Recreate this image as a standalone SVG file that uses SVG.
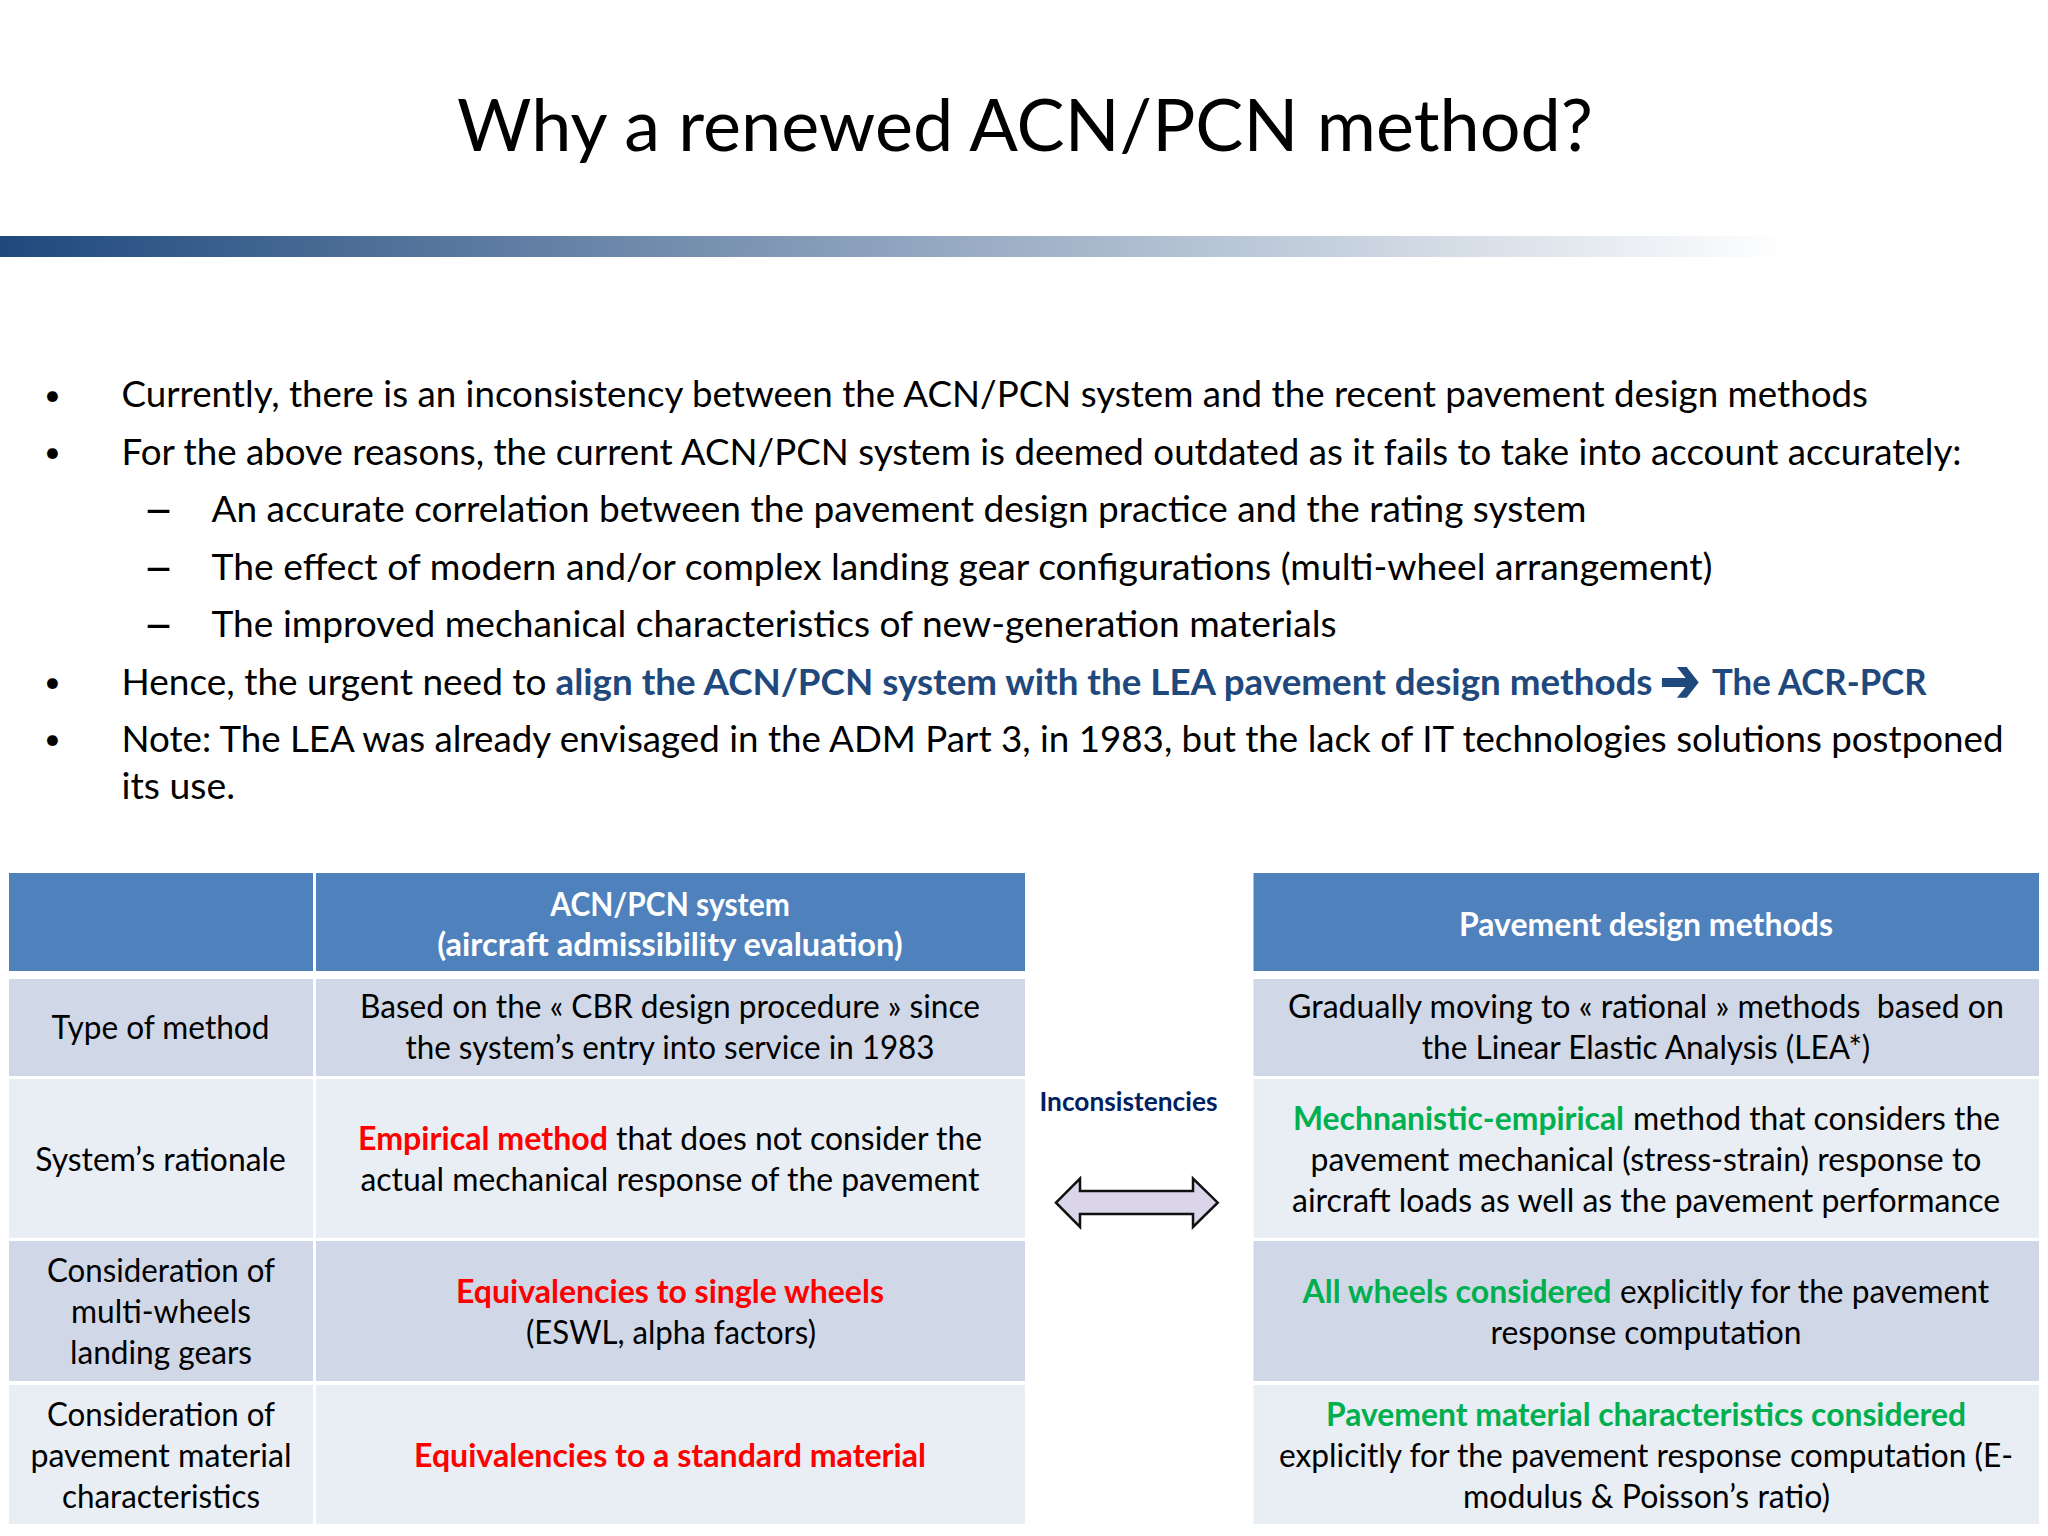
<svg xmlns="http://www.w3.org/2000/svg" width="2048" height="1536" viewBox="0 0 2048 1536">
<style>
text{font-family:"Lato","Carlito","Liberation Sans",sans-serif;fill:#000;white-space:pre}
.t{font-size:72px}
.b{font-size:37px}
.p{font-size:29px}
.c{font-size:32px;text-anchor:middle}
.s{font-size:32px}
.h{font-size:32px;font-weight:700;fill:#fff;text-anchor:middle}
.bl{fill:#1F497D;font-weight:700}
.r{fill:#FF0000;font-weight:700}
.g{fill:#00B050;font-weight:700}
.hd{fill:#4F81BD}.d{fill:#D0D8E8}.l{fill:#E9EDF4}
</style>
<defs>
<linearGradient id="bar" x1="0" x2="1" y1="0" y2="0"><stop offset="0" stop-color="#1F497D"/><stop offset="1" stop-color="#1F497D" stop-opacity="0"/></linearGradient>
</defs>
<rect width="2048" height="1536" fill="#fff"/>
<g id="title">
<text class="t" x="457" y="151" textLength="1136" lengthAdjust="spacingAndGlyphs">Why a renewed ACN/PCN method?</text>
<rect x="0" y="236" width="1790" height="21" fill="url(#bar)"/>
</g>
<g id="body">
<text class="p" x="44" y="405">•</text>
<text class="b" x="121.5" y="407" textLength="1746.5" lengthAdjust="spacingAndGlyphs">Currently, there is an inconsistency between the ACN/PCN system and the recent pavement design methods</text>
<text class="p" x="44" y="462">•</text>
<text class="b" x="121.5" y="465" textLength="1840" lengthAdjust="spacingAndGlyphs">For the above reasons, the current ACN/PCN system is deemed outdated as it fails to take into account accurately:</text>
<text class="b" x="143" y="522" textLength="31" lengthAdjust="spacingAndGlyphs" font-weight="700">–</text>
<text class="b" x="211.5" y="522" textLength="1375" lengthAdjust="spacingAndGlyphs">An accurate correlation between the pavement design practice and the rating system</text>
<text class="b" x="143" y="580" textLength="31" lengthAdjust="spacingAndGlyphs" font-weight="700">–</text>
<text class="b" x="211.5" y="580" textLength="1501" lengthAdjust="spacingAndGlyphs">The effect of modern and/or complex landing gear configurations (multi-wheel arrangement)</text>
<text class="b" x="143" y="637" textLength="31" lengthAdjust="spacingAndGlyphs" font-weight="700">–</text>
<text class="b" x="211.5" y="637" textLength="1125" lengthAdjust="spacingAndGlyphs">The improved mechanical characteristics of new-generation materials</text>
<text class="p" x="44" y="692">•</text>
<text class="b" y="695"><tspan x="121.5" textLength="425" lengthAdjust="spacingAndGlyphs">Hence, the urgent need to</tspan><tspan class="bl" x="555.5" textLength="1097" lengthAdjust="spacingAndGlyphs">align the ACN/PCN system with the LEA pavement design methods</tspan><tspan class="bl" x="1712" textLength="214.5" lengthAdjust="spacingAndGlyphs">The ACR-PCR</tspan></text>
<text x="1660" y="701" textLength="40" lengthAdjust="spacingAndGlyphs" style="font-family:'DejaVu Sans';font-size:60px;fill:#1F497D;stroke:#1F497D;stroke-width:2px">➔</text>
<text class="p" x="44" y="749">•</text>
<text class="b" x="121.5" y="752" textLength="1882" lengthAdjust="spacingAndGlyphs">Note: The LEA was already envisaged in the ADM Part 3, in 1983, but the lack of IT technologies solutions postponed</text>
<text class="b" x="121.5" y="799" textLength="113.5" lengthAdjust="spacingAndGlyphs">its use.</text>
</g>
<g id="table-left">
<rect class="hd" x="9" y="873" width="304" height="98"/>
<rect class="hd" x="316" y="873" width="709" height="98"/>
<rect class="d" x="9" y="979" width="304" height="97"/>
<rect class="d" x="316" y="979" width="709" height="97"/>
<rect class="l" x="9" y="1079" width="304" height="159"/>
<rect class="l" x="316" y="1079" width="709" height="159"/>
<rect class="d" x="9" y="1241" width="304" height="140"/>
<rect class="d" x="316" y="1241" width="709" height="140"/>
<rect class="l" x="9" y="1385" width="304" height="139"/>
<rect class="l" x="316" y="1385" width="709" height="139"/>
<text class="h" x="670" y="915.5" textLength="239.5" lengthAdjust="spacingAndGlyphs">ACN/PCN system</text>
<text class="h" x="670" y="956" textLength="465.5" lengthAdjust="spacingAndGlyphs">(aircraft admissibility evaluation)</text>
<text class="c" x="160.5" y="1038.5" textLength="218" lengthAdjust="spacingAndGlyphs">Type of method</text>
<text class="c" x="670" y="1018" textLength="620" lengthAdjust="spacingAndGlyphs">Based on the « CBR design procedure » since</text>
<text class="c" x="670" y="1059" textLength="529" lengthAdjust="spacingAndGlyphs">the system’s entry into service in 1983</text>
<text class="c" x="160.5" y="1170.5" textLength="250.5" lengthAdjust="spacingAndGlyphs">System’s rationale</text>
<text class="s" y="1150"><tspan class="r" x="358" textLength="250" lengthAdjust="spacingAndGlyphs">Empirical method</tspan><tspan x="616" textLength="366" lengthAdjust="spacingAndGlyphs">that does not consider the</tspan></text>
<text class="c" x="670" y="1191" textLength="619" lengthAdjust="spacingAndGlyphs">actual mechanical response of the pavement</text>
<text class="c" x="161" y="1282" textLength="228" lengthAdjust="spacingAndGlyphs">Consideration of</text>
<text class="c" x="161" y="1323" textLength="180" lengthAdjust="spacingAndGlyphs">multi-wheels</text>
<text class="c" x="161" y="1364" textLength="182" lengthAdjust="spacingAndGlyphs">landing gears</text>
<text class="c r" x="670" y="1303" textLength="428" lengthAdjust="spacingAndGlyphs">Equivalencies to single wheels</text>
<text class="c" x="671" y="1344" textLength="290" lengthAdjust="spacingAndGlyphs">(ESWL, alpha factors)</text>
<text class="c" x="161" y="1425.5" textLength="228" lengthAdjust="spacingAndGlyphs">Consideration of</text>
<text class="c" x="161" y="1466.5" textLength="261" lengthAdjust="spacingAndGlyphs">pavement material</text>
<text class="c" x="161" y="1507.5" textLength="198" lengthAdjust="spacingAndGlyphs">characteristics</text>
<text class="c r" x="670" y="1466.5" textLength="512" lengthAdjust="spacingAndGlyphs">Equivalencies to a standard material</text>
</g>
<g id="inconsistencies">
<text x="1039.5" y="1111" textLength="178" lengthAdjust="spacingAndGlyphs" style="font-size:26px;font-weight:700;fill:#002060">Inconsistencies</text>
<path d="M1056 1202.7L1080 1178.5V1191H1193V1178.5L1217.7 1202.7L1193 1227V1214H1080V1227Z" fill="#DAD5E8" stroke="#111" stroke-width="2.5"/>
</g>
<g id="table-right">
<rect class="hd" x="1253.5" y="873" width="785.5" height="98"/>
<rect class="d" x="1253.5" y="979" width="785.5" height="97"/>
<rect class="l" x="1253.5" y="1079" width="785.5" height="159"/>
<rect class="d" x="1253.5" y="1241" width="785.5" height="140"/>
<rect class="l" x="1253.5" y="1385" width="785.5" height="139"/>
<text class="h" x="1646" y="936" textLength="374" lengthAdjust="spacingAndGlyphs">Pavement design methods</text>
<text class="c" x="1646" y="1018" textLength="716" lengthAdjust="spacingAndGlyphs">Gradually moving to « rational » methods  based on</text>
<text class="c" x="1646" y="1059" textLength="448.5" lengthAdjust="spacingAndGlyphs">the Linear Elastic Analysis (LEA*)</text>
<text class="s" y="1130"><tspan class="g" x="1293" textLength="331" lengthAdjust="spacingAndGlyphs">Mechnanistic-empirical</tspan><tspan x="1633" textLength="367" lengthAdjust="spacingAndGlyphs">method that considers the</tspan></text>
<text class="c" x="1646" y="1171" textLength="671" lengthAdjust="spacingAndGlyphs">pavement mechanical (stress-strain) response to</text>
<text class="c" x="1646" y="1212" textLength="708" lengthAdjust="spacingAndGlyphs">aircraft loads as well as the pavement performance</text>
<text class="s" y="1303"><tspan class="g" x="1302.5" textLength="309" lengthAdjust="spacingAndGlyphs">All wheels considered</tspan><tspan x="1620" textLength="369" lengthAdjust="spacingAndGlyphs">explicitly for the pavement</tspan></text>
<text class="c" x="1646" y="1344" textLength="311" lengthAdjust="spacingAndGlyphs">response computation</text>
<text class="c g" x="1646" y="1425.5" textLength="640" lengthAdjust="spacingAndGlyphs">Pavement material characteristics considered</text>
<text class="c" x="1646" y="1466.5" textLength="734" lengthAdjust="spacingAndGlyphs">explicitly for the pavement response computation (E-</text>
<text class="c" x="1646.5" y="1507.5" textLength="367" lengthAdjust="spacingAndGlyphs">modulus &amp; Poisson’s ratio)</text>
</g>
</svg>
